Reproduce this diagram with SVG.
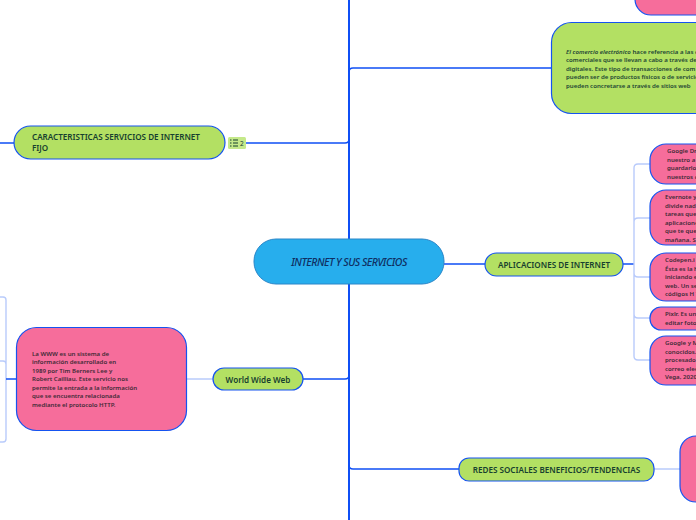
<svg xmlns="http://www.w3.org/2000/svg" width="696" height="520" viewBox="0 0 696 520">
<style>
text{font-family:"Noto Sans","Open Sans","DejaVu Sans",sans-serif;font-weight:600;white-space:pre}
.g{fill:#b3e063;stroke:#1553f0;stroke-width:1.2}
.p{fill:#f66d9b;stroke:#1553f0;stroke-width:1.2}
.gt{fill:#17402f;font-size:8.1px}
.pt{fill:#3f2a37;font-size:6.1px}
.ct{fill:#1c4534;font-size:6.1px}
.d{fill:none;stroke:#0f4ff5;stroke-width:1.5}
.t{fill:none;stroke:#0f4ff5;stroke-width:2}
.l{fill:none;stroke:#b9cbfb;stroke-width:1.4}
</style>
<g id="connectors">
<path class="t" d="M349 0V520"/>
<path class="d" d="M551 68H353Q349 68 349 72M349 139Q349 143 345 143H246M14 143H0"/>
<path class="d" d="M444 264H485M303 379H345Q349 379 349 375M349 465Q349 469 353 469H459"/>
<path class="d" d="M623 264H634"/>
<path class="l" d="M650 164H638Q634 164 634 168V356Q634 360 638 360H650M634 222Q634 218 638 218H650M634 273Q634 277 638 277H650M634 314Q634 318 638 318H650"/>
<path class="l" d="M187 379H213M654 469H680"/>
<path class="l" d="M0 297H3Q6 297 6 300V439Q6 442 3 442H0M0 361H3Q6 361 6 364"/>
<path class="d" d="M6 379H16"/>
</g>
<g id="n-top"><rect class="p" x="635" y="-30" width="90" height="45" rx="16"/></g>
<g id="n-comercio"><rect class="g" x="551.500" y="22.500" width="180" height="91" rx="20"/>
<text class="ct" x="566" y="54"><tspan font-style="italic">El comercio electrónico</tspan> hace referencia a las op</text>
<text class="ct" x="566" y="62">comerciales que se llevan a cabo a través de</text>
<text class="ct" x="566" y="71">digitales. Este tipo de transacciones de com</text>
<text class="ct" x="566" y="79">pueden ser de productos físicos o de servicio</text>
<text class="ct" x="566" y="88">pueden concretarse a través de sitios web</text></g>
<g id="n-caracteristicas"><rect class="g" x="14" y="126" width="211" height="33" rx="16.500"/>
<text class="gt" x="32" y="140">CARACTERISTICAS SERVICIOS DE INTERNET</text>
<text class="gt" x="32" y="151">FIJO</text></g>
<g id="n-tag"><rect x="228" y="137" width="18" height="12" rx="1.500" fill="#c5e98a"/>
<path d="M233 140H238M233 143H238M233 146H238" stroke="#17402f" stroke-width="1" fill="none"/>
<path d="M230 140H231.500M230 143H231.500M230 146H231.500" stroke="#17402f" stroke-width="1" fill="none"/>
<text x="240" y="146" style="font-size:6.500px;font-weight:400" fill="#17402f">2</text></g>
<g id="n-central"><rect x="254" y="239" width="190" height="45" rx="22" fill="#27aeed" stroke="#2a86c8"/>
<text x="349" y="266" text-anchor="middle" font-style="italic" font-size="10.500" letter-spacing="-0.500" style="font-weight:500" fill="#0f2f63">INTERNET Y SUS SERVICIOS</text></g>
<g id="n-www"><rect class="g" x="213" y="368" width="90" height="22" rx="11"/>
<text class="gt" x="258" y="382.500" text-anchor="middle">World Wide Web</text></g>
<g id="n-www-text"><rect class="p" x="16.500" y="327.500" width="170" height="103" rx="20"/>
<text class="pt" x="32" y="355.500">La WWW es un sistema de</text>
<text class="pt" x="32" y="364">información desarrollado en</text>
<text class="pt" x="32" y="373">1989 por Tim Berners Lee y</text>
<text class="pt" x="32" y="381">Robert Cailliau. Este servicio nos</text>
<text class="pt" x="32" y="390">permite la entrada a la información</text>
<text class="pt" x="32" y="398">que se encuentra relacionada</text>
<text class="pt" x="32" y="407">mediante el protocolo HTTP.</text></g>
<g id="n-aplicaciones"><rect class="g" x="485" y="253" width="138" height="23" rx="11.500"/>
<text class="gt" x="554" y="267.500" text-anchor="middle">APLICACIONES DE INTERNET</text></g>
<g id="n-drive"><rect class="p" x="650" y="144" width="80" height="40" rx="16"/>
<text class="pt" x="667" y="153">Google Dr</text>
<text class="pt" x="667" y="162">nuestro a</text>
<text class="pt" x="667" y="170">guardarlo</text>
<text class="pt" x="667" y="179">nuestros d</text></g>
<g id="n-evernote"><rect class="p" x="650" y="190" width="80" height="55" rx="16"/>
<text class="pt" x="665" y="199">Evernote y</text>
<text class="pt" x="665" y="208">divide nad</text>
<text class="pt" x="665" y="216">tareas que</text>
<text class="pt" x="665" y="225">aplicacione</text>
<text class="pt" x="665" y="233">que te que</text>
<text class="pt" x="665" y="242">mañana. S</text></g>
<g id="n-codepen"><rect class="p" x="650" y="253" width="80" height="48" rx="16"/>
<text class="pt" x="665" y="262">Codepen.i</text>
<text class="pt" x="665" y="271">Ésta es la h</text>
<text class="pt" x="665" y="279">iniciando e</text>
<text class="pt" x="665" y="288">web. Un se</text>
<text class="pt" x="665" y="296">códigos H T</text></g>
<g id="n-pixlr"><rect class="p" x="650" y="307" width="80" height="23" rx="11"/>
<text class="pt" x="665" y="316">Pixlr. Es un</text>
<text class="pt" x="665" y="325">editar foto</text></g>
<g id="n-google"><rect class="p" x="650" y="336" width="80" height="49" rx="16"/>
<text class="pt" x="665" y="345">Google y M</text>
<text class="pt" x="665" y="354">conocidos.</text>
<text class="pt" x="665" y="362">procesado</text>
<text class="pt" x="665" y="371">correo elec</text>
<text class="pt" x="665" y="379">Vega, 2020</text></g>
<g id="n-redes"><rect class="g" x="459" y="458" width="195" height="23" rx="10"/>
<text class="gt" x="556.500" y="472.500" text-anchor="middle">REDES SOCIALES BENEFICIOS/TENDENCIAS</text></g>
<g id="n-redes-text"><rect class="p" x="680" y="436" width="60" height="66" rx="16"/></g>
</svg>
